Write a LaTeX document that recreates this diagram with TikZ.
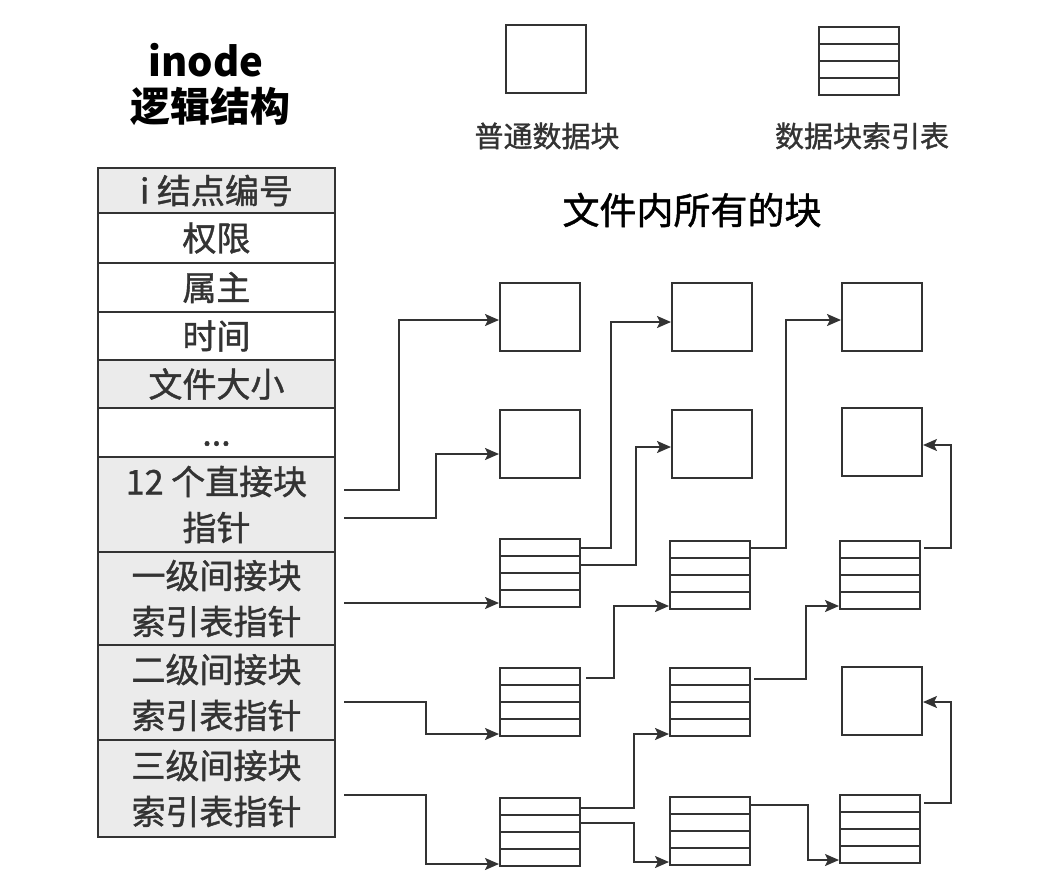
\documentclass[tikz,border=0pt]{standalone}
\usepackage{fontspec}
\setmainfont{Noto Sans CJK SC}
\newfontfamily\medf{Noto Sans CJK SC}[FakeBold=1.2]
\usetikzlibrary{calc,arrows.meta}
\definecolor{ln}{HTML}{333333}
\definecolor{cellgray}{HTML}{EBEBEB}
\tikzset{
  cell/.style={draw=ln, line width=2pt, minimum width=237pt, inner sep=0pt, align=center,
    font=\medf\fontsize{34}{46}\selectfont, text=ln},
  gcell/.style={cell, fill=cellgray},
  blk/.style={draw=ln, line width=2pt, minimum width=80pt, minimum height=68pt, inner sep=0pt},
  idx/.style={blk, path picture={
    \foreach \i in {1,2,3}
      \draw[ln, line width=2pt]
        ($(path picture bounding box.north west)!\i/4!(path picture bounding box.south west)$) --
        ($(path picture bounding box.north east)!\i/4!(path picture bounding box.south east)$);}},
  arr/.style={draw=ln, line width=2pt, -{Stealth[length=14pt,width=12pt,inset=3pt]}},
  lbl/.style={font=\medf\fontsize{29}{30}\selectfont, text=ln},
}
\begin{document}
\begin{tikzpicture}[x=1pt,y=-1pt]
\useasboundingbox (0,0) rectangle (1047,881);
% titles
\node[font=\fontsize{40}{42}\selectfont\bfseries] (t1) at (206,60) {inode};
\node[font=\fontsize{40}{42}\selectfont\bfseries] (t2) at (210,106) {逻辑结构};
% legend
\node[blk] (l1) at (546,59) {};
\node[idx] (l2) at (859,61) {};
\node[lbl] (l1t) at (547,136) {普通数据块};
\node[lbl] (l2t) at (862,136) {数据块索引表};
\node[font=\medf\fontsize{37}{40}\selectfont] (t3) at (692,210) {文件内所有的块};
% inode table
\node[gcell, minimum height=45pt] (r1) at (216.5,190.5) {i 结点编号};
\node[cell, minimum height=50pt] (r2) at (216.5,238) {权限};
\node[cell, minimum height=49pt] (r3) at (216.5,287.5) {属主};
\node[cell, minimum height=48pt] (r4) at (216.5,336) {时间};
\node[gcell, minimum height=48pt] (r5) at (216.5,384) {文件大小};
\node[cell, minimum height=49pt, text depth=0pt, text height=10pt] (r6) at (216.5,432.5) {\raisebox{-8pt}{...}};
\node[gcell, minimum height=95pt] (r7) at (216.5,504.5) {12 个直接块\\指针};
\node[gcell, minimum height=93pt] (r8) at (216.5,598.5) {一级间接块\\索引表指针};
\node[gcell, minimum height=95pt] (r9) at (216.5,692.5) {二级间接块\\索引表指针};
\node[gcell, minimum height=97pt] (r10) at (216.5,788.5) {三级间接块\\索引表指针};
% blocks
\node[blk] (b11) at (540,317) {};
\node[blk] (b12) at (712,317) {};
\node[blk] (b13) at (882,317) {};
\node[blk] (b21) at (540,444) {};
\node[blk] (b22) at (712,444) {};
\node[blk] (b23) at (882,442) {};
\node[idx] (b31) at (540,573) {};
\node[idx] (b32) at (710,575) {};
\node[idx] (b33) at (880,575) {};
\node[idx] (b41) at (540,702) {};
\node[idx] (b42) at (710,702) {};
\node[blk] (b43) at (882,701) {};
\node[idx] (b51) at (540,832) {};
\node[idx] (b52) at (710,831) {};
\node[idx] (b53) at (880,829) {};
% connectors
\draw[arr] ([xshift=8pt,yshift=14.5pt]r7.east) -- ++(55,0) |- ([yshift=-3pt]b11.west);
\draw[arr] ([xshift=8pt,yshift=-13.5pt]r7.east) -- ++(92,0) |- ([yshift=-10pt]b21.west);
\draw[arr] ([yshift=25pt]b31.east) -- ++(30,0) |- ([yshift=-5pt]b12.west);
\draw[arr] ([yshift=8pt]b31.east) -- ++(55,0) |- ([yshift=-3pt]b22.west);
\draw[arr] ([xshift=8pt,yshift=-4.5pt]r8.east) -- ([yshift=-30pt]b31.west);
\draw[arr] ([xshift=5pt,yshift=24pt]b41.east) -- ++(28,0) |- ([yshift=-31pt]b32.west);
\draw[arr] ([xshift=8pt,yshift=-9.5pt]r9.east) -- ++(82,0) |- ([yshift=-32pt]b41.west);
\draw[arr] ([xshift=8pt,yshift=-6.5pt]r10.east) -- ++(82,0) |- ([yshift=-32pt]b51.west);
\draw[arr] ([yshift=24pt]b51.east) -- ++(53,0) |- ([yshift=-32pt]b42.west);
\draw[arr] ([yshift=9pt]b51.east) -- ++(53,0) |- ([yshift=-31pt]b52.west);
\draw[arr] ([yshift=27pt]b32.east) -- ++(35,0) |- ([yshift=-3pt]b13.west);
\draw[arr] ([xshift=3pt,yshift=27pt]b33.east) -- ++(27,0) |- ([yshift=-3pt]b23.east);
\draw[arr] ([xshift=3pt,yshift=23pt]b42.east) -- ++(52,0) |- ([yshift=-31pt]b33.west);
\draw[arr] ([yshift=26pt]b52.east) -- ++(57,0) |- ([yshift=-31pt]b53.west);
\draw[arr] ([xshift=3pt,yshift=26pt]b53.east) -- ++(27,0) |- ([yshift=-1pt]b43.east);
\end{tikzpicture}
\end{document}
